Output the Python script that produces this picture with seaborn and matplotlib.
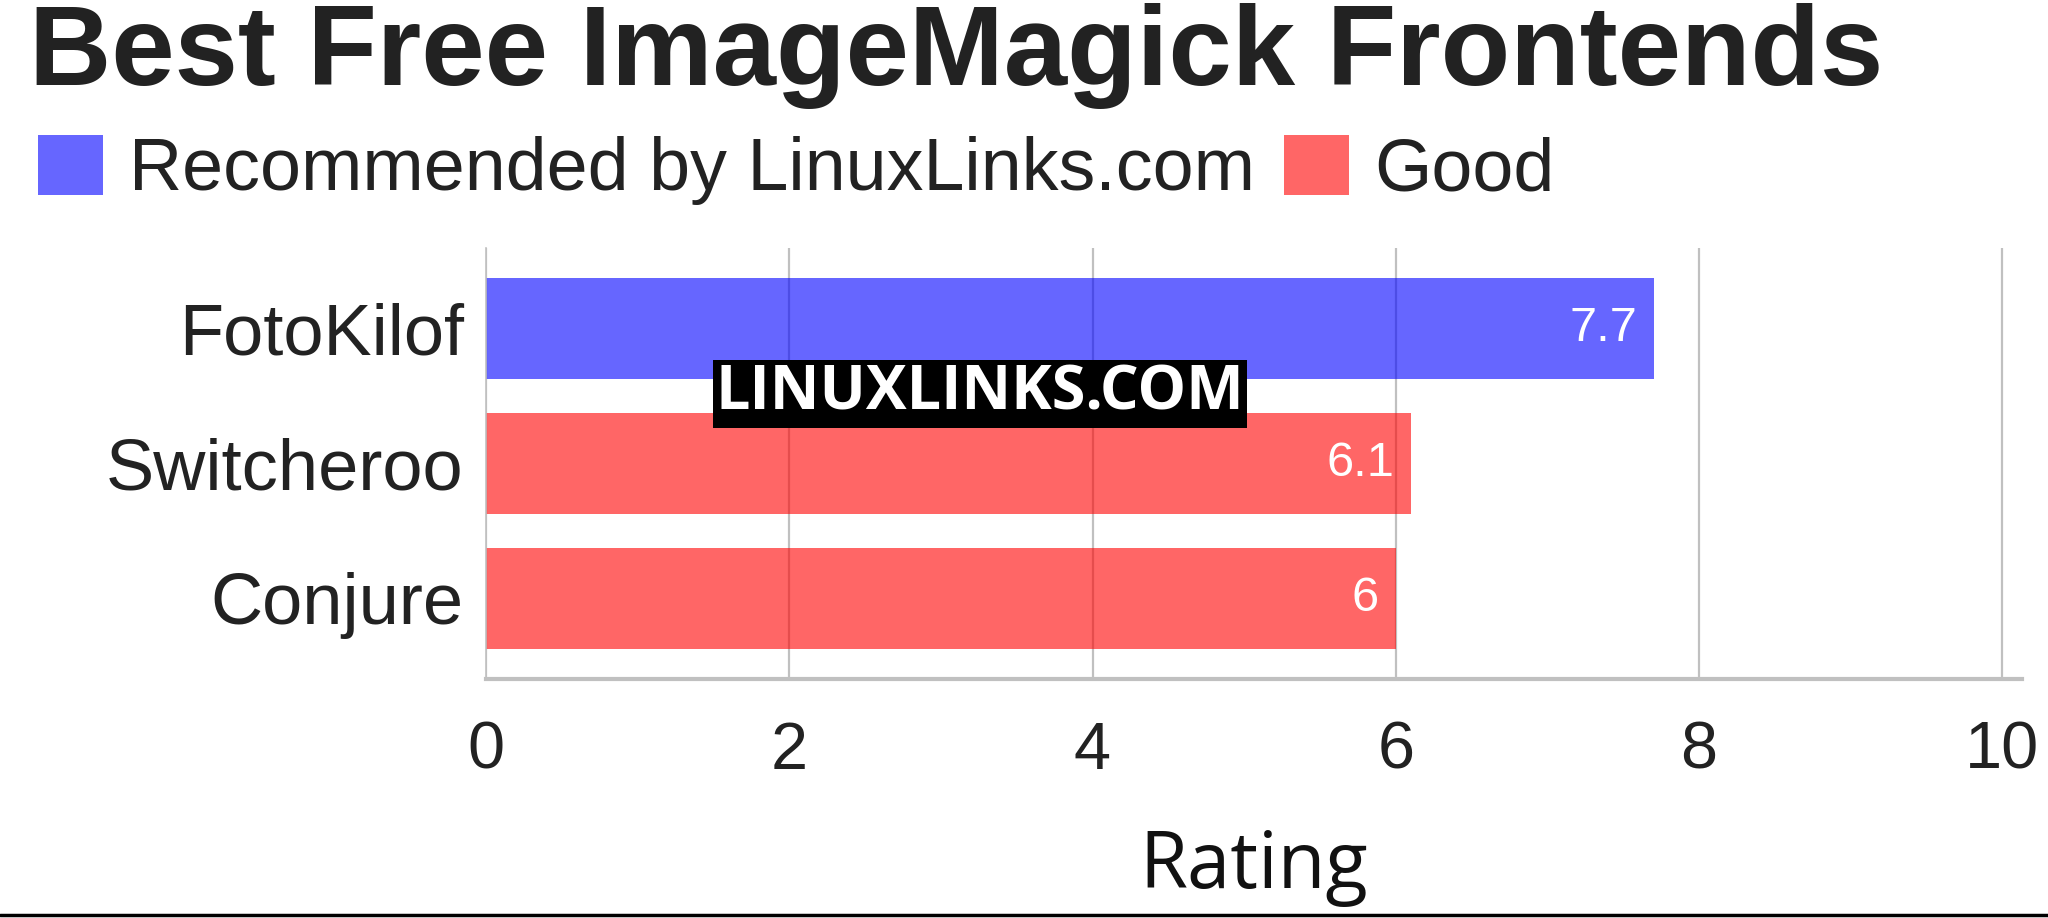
import matplotlib
matplotlib.use("Agg")
import matplotlib.pyplot as plt
from matplotlib.patches import Patch
from matplotlib.lines import Line2D
import seaborn as sns
import pandas as pd

# ---- data ----
names = ["FotoKilof", "Switcheroo", "Conjure"]
ratings = [7.7, 6.1, 6.0]
groups = ["Recommended by LinuxLinks.com", "Good", "Good"]
value_labels = ["7.7", "6.1", "6"]
legend_labels = ["Recommended by LinuxLinks.com", "Good"]
x_ticks = [0, 2, 4, 6, 8, 10]
title = "Best Free ImageMagick Frontends"
x_label = "Rating"
watermark = "LINUXLINKS.COM"

palette = {"Recommended by LinuxLinks.com": "#0000ff", "Good": "#ff0000"}

sns.set_style("white")
plt.rcParams["font.family"] = ["Liberation Sans", "DejaVu Sans"]

df = pd.DataFrame({"name": names, "rating": ratings, "group": groups})

W, H = 2048, 918
fig = plt.figure(figsize=(W / 100, H / 100), dpi=100)
ax = fig.add_axes([486 / W, 1 - 679 / H, (2022 - 486) / W, (679 - 248) / H])

sns.barplot(data=df, x="rating", y="name", hue="group", order=names,
            hue_order=legend_labels, palette=palette, dodge=False,
            saturation=1, alpha=0.6, width=0.75, legend=False, ax=ax,
            orient="h", linewidth=0)

ax.set_xlim(0, 10.13)
ax.set_ylim(2.6, -0.6)
ax.set_xticks(x_ticks)
ax.set_xticklabels([str(t) for t in x_ticks])
ax.set_xlabel("")
ax.set_ylabel("")
ax.set_axisbelow(True)
ax.grid(axis="x", color="#c0c0c0", linewidth=1.6)
ax.grid(axis="y", visible=False)
ax.tick_params(axis="x", length=0, pad=30, labelsize=48, labelcolor="#222222")
ax.tick_params(axis="y", length=0, pad=16, labelsize=52, labelcolor="#222222")
for s in ["top", "right"]:
    ax.spines[s].set_visible(False)
ax.spines["bottom"].set_color("#c0c0c0")
ax.spines["bottom"].set_linewidth(3)
ax.spines["left"].set_color("#c0c0c0")
ax.spines["left"].set_linewidth(1.2)

# value labels inside bars
for cont in ax.containers:
    lbls = []
    for bar in cont:
        w = bar.get_width()
        idx = ratings.index(w) if w in ratings else None
        lbls.append(value_labels[idx] if idx is not None else "")
    texts = ax.bar_label(cont, labels=lbls, padding=-12, color="white",
                         fontsize=35)
    for t in texts:
        t.set_ha("right")

# title
fig.text(29 / W, 1 - 85 / H, title, fontsize=82, fontweight="bold",
         color="#222222", ha="left", va="baseline")

# legend
handles = [Patch(facecolor=palette[g], alpha=0.6, edgecolor="none") for g in legend_labels]
fig.legend(handles, legend_labels, loc="center left",
           bbox_to_anchor=(38 / W, 1 - 170 / H), ncol=2, frameon=False,
           fontsize=53, handlelength=0.88, handleheight=0.88,
           handletextpad=0.35, columnspacing=0.4, borderpad=0,
           borderaxespad=0, labelcolor="#222222")

# x label
fig.text(1254 / W, 1 - 888 / H, x_label, fontsize=56, family="Open Sans",
         color="#111111", ha="center", va="baseline")

# watermark
fig.text(980 / W, 1 - 394 / H, watermark, fontsize=44, family="Open Sans",
         fontweight="bold", color="white", ha="center", va="center",
         bbox=dict(facecolor="black", edgecolor="none", pad=2))

# bottom rule
fig.add_artist(Line2D([0, 1], [1 - 915 / H, 1 - 915 / H], color="black",
                      linewidth=2.5, transform=fig.transFigure))

fig.savefig("out.png", dpi=100)
